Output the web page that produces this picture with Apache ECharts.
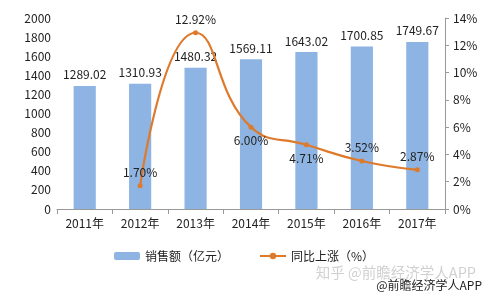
<!DOCTYPE html>
<html><head><meta charset="utf-8">
<script src="https://cdn.jsdelivr.net/npm/echarts@6/dist/echarts.min.js"></script>
<style>html,body{margin:0;padding:0;background:#fff}#c{width:488px;height:295px}</style>
</head><body><div id="c"></div>
<script>
const categories = ['2011年','2012年','2013年','2014年','2015年','2016年','2017年'];
const sales = [1289.02, 1310.93, 1480.32, 1569.11, 1643.02, 1700.85, 1749.67];
const growth = [null, 1.70, 12.92, 6.00, 4.71, 3.52, 2.87];
const growthLabelPos = [null, 'top', 'top', 'bottom', 'bottom', 'top', 'top'];

const font = '"Noto Sans CJK SC", "DejaVu Sans", sans-serif';
const chart = echarts.init(document.getElementById('c'));
chart.setOption({
  animation: false,
  textStyle: {fontFamily: font},
  grid: {left: 57, right: 43, top: 18, bottom: 86},
  legend: {
    bottom: 28, left: 'center', itemWidth: 26, itemHeight: 8, itemGap: 30,
    textStyle: {fontSize: 12, color: '#222', fontFamily: font},
    data: [{name: '销售额（亿元）'}, {name: '同比上涨（%）'}]
  },
  xAxis: {
    type: 'category', data: categories,
    axisLine: {lineStyle: {color: '#999'}},
    axisTick: {show: true, length: 5, lineStyle: {color: '#999'}},
    axisLabel: {color: '#222', fontSize: 12, margin: 8}
  },
  yAxis: [
    {type: 'value', min: 0, max: 2000, interval: 200,
     axisLine: {show: false}, axisTick: {show: false}, splitLine: {show: false},
     axisLabel: {color: '#222', fontSize: 12, margin: 6, formatter: v => String(v)}},
    {type: 'value', min: 0, max: 14, interval: 2, position: 'right',
     axisLine: {show: true, lineStyle: {color: '#999'}},
     axisTick: {show: true, length: 4, lineStyle: {color: '#999'}},
     splitLine: {show: false},
     axisLabel: {color: '#222', fontSize: 12, margin: 8, formatter: '{value}%'}}
  ],
  series: [
    {name: '销售额（亿元）', type: 'bar', data: sales, barWidth: '40%',
     itemStyle: {color: '#8DB4E2'},
     label: {show: true, position: 'top', color: '#222', fontSize: 12,
       formatter: p => p.value.toFixed(2)}},
    {name: '同比上涨（%）', type: 'line', yAxisIndex: 1, smooth: true,
     data: growth.map((v, i) => v == null ? null : {value: v, label: {position: growthLabelPos[i]}}),
     symbol: 'circle', symbolSize: 5,
     lineStyle: {color: '#DE7A2C', width: 2.2},
     itemStyle: {color: '#DE7A2C'},
     label: {show: true, color: '#222', fontSize: 12, distance: 5,
       formatter: p => p.value.toFixed(2) + '%'}}
  ],
  graphic: [
    {type: 'text', right: 12, top: 265, style: {text: '知乎 @前瞻经济学人APP', fill: 'rgba(150,150,150,0.45)', fontSize: 14.5, fontFamily: font}},
    {type: 'text', right: 6, top: 279, style: {text: '@前瞻经济学人APP', fill: '#222', fontSize: 12, fontFamily: font}}
  ]
});
</script></body></html>
